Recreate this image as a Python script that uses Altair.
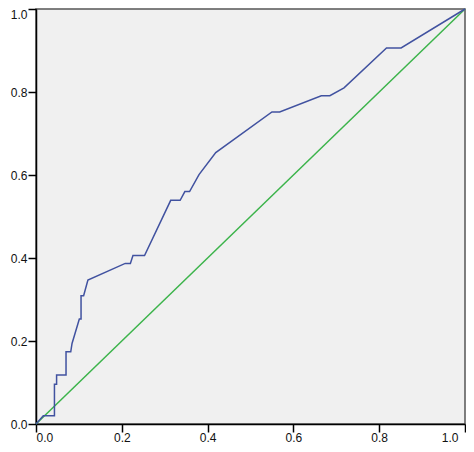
import altair as alt
import pandas as pd

# ROC curve points (1 - specificity, sensitivity)
fpr = [0.0, 0.017, 0.043, 0.043, 0.048, 0.048, 0.070, 0.070, 0.081, 0.084,
       0.101, 0.105, 0.105, 0.111, 0.121, 0.208, 0.220, 0.226, 0.253, 0.314,
       0.336, 0.347, 0.358, 0.380, 0.419, 0.550, 0.568, 0.665, 0.685, 0.718,
       0.817, 0.851, 1.0]
tpr = [0.0, 0.020, 0.020, 0.096, 0.096, 0.118, 0.118, 0.174, 0.174, 0.194,
       0.253, 0.253, 0.309, 0.309, 0.347, 0.387, 0.387, 0.406, 0.406, 0.539,
       0.539, 0.560, 0.560, 0.601, 0.654, 0.752, 0.752, 0.791, 0.791, 0.810,
       0.906, 0.906, 1.0]

# reference (chance) line
ref_x = [0.0, 1.0]
ref_y = [0.0, 1.0]

tick_values = [0.0, 0.2, 0.4, 0.6, 0.8, 1.0]

roc = pd.DataFrame({"fpr": fpr, "tpr": tpr, "i": list(range(len(fpr)))})
ref = pd.DataFrame({"fpr": ref_x, "tpr": ref_y, "i": [0, 1]})

xenc = alt.X("fpr:Q", scale=alt.Scale(domain=[0, 1], nice=False),
             axis=alt.Axis(values=tick_values, format=".1f", title="",
                           labelOffset={"condition": {"test": "datum.value >= 1", "value": -7},
                                        "value": 0}))
yenc = alt.Y("tpr:Q", scale=alt.Scale(domain=[0, 1], nice=False),
             axis=alt.Axis(values=tick_values, format=".1f", title="",
                           labelOffset={"condition": {"test": "datum.value >= 1", "value": 5},
                                        "value": 0}))

diag = alt.Chart(ref).mark_line(color="#3cb44b", strokeWidth=1.5).encode(
    x=xenc, y=yenc, order="i:Q")
curve = alt.Chart(roc).mark_line(color="#4152a0", strokeWidth=1.5).encode(
    x=xenc, y=yenc, order="i:Q")

chart = alt.layer(diag, curve).properties(
    width=429, height=415,
    autosize=alt.AutoSizeParams(type="none"),
    padding={"left": 28, "top": 1, "right": 1, "bottom": 20},
).configure_view(
    fill="#f0f0f0", stroke="#555555", strokeWidth=1.5
).configure_axis(
    grid=False,
    domainColor="#000000", domainWidth=1.5,
    tickColor="#000000", tickWidth=1.5, tickSize=8,
    labelFont="Liberation Sans", labelFontSize=12, labelColor="#111111",
).configure_axisX(
    labelPadding=0
).configure_axisY(
    labelPadding=1
)

chart.save("out.html", embed_options={"renderer": "svg", "actions": False})
